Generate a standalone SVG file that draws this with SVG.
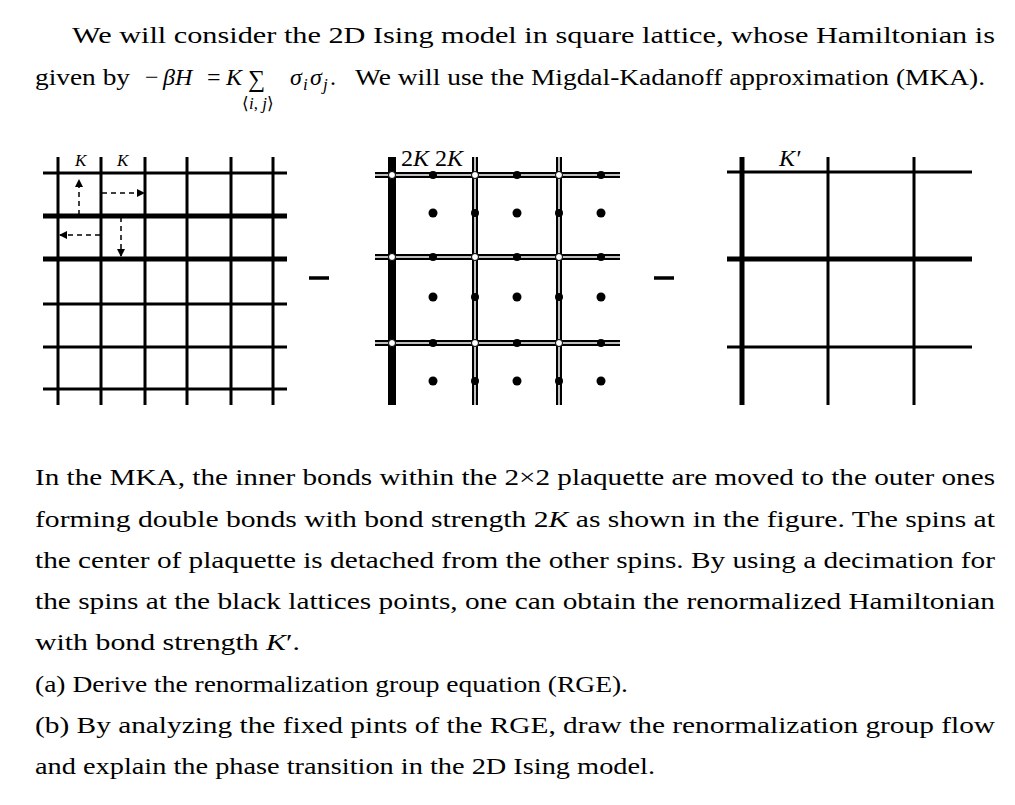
<svg xmlns="http://www.w3.org/2000/svg" width="1015" height="805" viewBox="0 0 1015 805">
<style>
text{font-family:"Liberation Serif",serif;font-size:24px;fill:#000}
.i{font-style:italic}
.s{font-size:17px}
.ln{stroke:#000;stroke-width:3;fill:none}
.thk{stroke:#000;stroke-width:5;fill:none}
.dash{stroke:#000;stroke-width:1.5;stroke-dasharray:5,4;fill:none}
</style>
<defs>
<marker id="ah" markerWidth="8" markerHeight="8" refX="7" refY="4" orient="auto" markerUnits="userSpaceOnUse"><path d="M0,0L8,4L0,8Z" fill="#000"/></marker>
</defs>
<rect width="1015" height="805" fill="#fff"/>
<g id="intro">
<text x="72" y="43" textLength="923" lengthAdjust="spacingAndGlyphs">We will consider the 2D Ising model in square lattice, whose Hamiltonian is</text>
<text x="35" y="85" textLength="95" lengthAdjust="spacingAndGlyphs">given by</text>
<text x="145" y="85">−</text>
<text x="163" y="85" class="i">βH</text>
<text x="207" y="85">=</text>
<text x="226" y="85" class="i">K</text>
<text x="248" y="87" font-size="28">∑</text>
<text x="290" y="85" class="i">σ</text><text x="303" y="90" class="s i">i</text>
<text x="310" y="85" class="i">σ</text><text x="323" y="90" class="s i">j</text><text x="330" y="85">.</text>
<text x="355" y="85" textLength="630" lengthAdjust="spacingAndGlyphs">We will use the Migdal-Kadanoff approximation (MKA).</text>
<text x="242" y="109" class="s">⟨<tspan class="i">i</tspan>, <tspan class="i">j</tspan>⟩</text>
</g>
<g id="lattice1">
<path class="ln" d="M58,157V405M101,157V405M145,157V405M187,157V405M231,157V405M273,157V405M43,173H287M43,304H287M43,347H287M43,389H287"/>
<path class="thk" d="M43,216H287M43,259H287"/>
<path class="dash" d="M79,215V180" marker-end="url(#ah)"/>
<path class="dash" d="M102,193H144" marker-end="url(#ah)"/>
<path class="dash" d="M100,235H60" marker-end="url(#ah)"/>
<path class="dash" d="M121,217V256" marker-end="url(#ah)"/>
<text x="75" y="166" class="i s">K</text><text x="117" y="166" class="i s">K</text>
</g>
<g id="lattice2">
<path stroke="#000" stroke-width="8" d="M392,157V405"/>
<path stroke="#000" stroke-width="6" d="M475,157V405M559,157V405M375,175H620M375,257H620M375,343H620"/>
<path stroke="#fff" stroke-width="1.5" d="M475,157V405M559,157V405M375,175H620M375,257H620M375,343H620"/>
<g fill="#000">
<circle cx="433" cy="213" r="4.5"/><circle cx="517" cy="213" r="4.5"/><circle cx="601" cy="213" r="4.5"/>
<circle cx="433" cy="297" r="4.5"/><circle cx="517" cy="297" r="4.5"/><circle cx="601" cy="297" r="4.5"/>
<circle cx="433" cy="381" r="4.5"/><circle cx="517" cy="381" r="4.5"/><circle cx="601" cy="381" r="4.5"/>
<circle cx="392" cy="213" r="4"/><circle cx="475" cy="213" r="4"/><circle cx="559" cy="213" r="4"/>
<circle cx="392" cy="297" r="4"/><circle cx="475" cy="297" r="4"/><circle cx="559" cy="297" r="4"/>
<circle cx="392" cy="381" r="4"/><circle cx="475" cy="381" r="4"/><circle cx="559" cy="381" r="4"/>
<circle cx="433" cy="175" r="4"/><circle cx="517" cy="175" r="4"/><circle cx="601" cy="175" r="4"/>
<circle cx="433" cy="257" r="4"/><circle cx="517" cy="257" r="4"/><circle cx="601" cy="257" r="4"/>
<circle cx="433" cy="343" r="4"/><circle cx="517" cy="343" r="4"/><circle cx="601" cy="343" r="4"/>
</g>
<g fill="#fff" stroke="#000" stroke-width="1">
<circle cx="392" cy="175" r="3.5"/><circle cx="475" cy="175" r="3.5"/><circle cx="559" cy="175" r="3.5"/>
<circle cx="392" cy="257" r="3.5"/><circle cx="475" cy="257" r="3.5"/><circle cx="559" cy="257" r="3.5"/>
<circle cx="392" cy="343" r="3.5"/><circle cx="475" cy="343" r="3.5"/><circle cx="559" cy="343" r="3.5"/>
</g>
<text x="401" y="166" font-size="18" fill="#333">2<tspan class="i">K</tspan>   2<tspan class="i">K</tspan></text>
</g>
<g id="lattice3">
<path class="ln" d="M828,157V405M914,157V405M727,172H972M727,347H972"/>
<path class="thk" d="M742,157V405M727,259H972"/>
<text x="779" y="166" class="i" font-size="18">K′</text>
</g>
<g id="connectors">
<path stroke="#000" stroke-width="3.5" d="M309,278H329"/>
<path stroke="#000" stroke-width="3.5" d="M654,278H674"/>
</g>
<g id="body">
<text x="35" y="485" textLength="960" lengthAdjust="spacingAndGlyphs">In the MKA, the inner bonds within the 2×2 plaquette are moved to the outer ones</text>
<text x="35" y="527" textLength="960" lengthAdjust="spacingAndGlyphs">forming double bonds with bond strength 2<tspan class="i">K</tspan> as shown in the figure. The spins at</text>
<text x="35" y="568" textLength="960" lengthAdjust="spacingAndGlyphs">the center of plaquette is detached from the other spins. By using a decimation for</text>
<text x="35" y="609" textLength="960" lengthAdjust="spacingAndGlyphs">the spins at the black lattices points, one can obtain the renormalized Hamiltonian</text>
<text x="35" y="650" textLength="265" lengthAdjust="spacingAndGlyphs">with bond strength <tspan class="i">K</tspan>′.</text>
<text x="35" y="692" textLength="593" lengthAdjust="spacingAndGlyphs">(a) Derive the renormalization group equation (RGE).</text>
<text x="35" y="733" textLength="960" lengthAdjust="spacingAndGlyphs">(b) By analyzing the fixed pints of the RGE, draw the renormalization group flow</text>
<text x="35" y="774" textLength="620" lengthAdjust="spacingAndGlyphs">and explain the phase transition in the 2D Ising model.</text>
</g>
</svg>
